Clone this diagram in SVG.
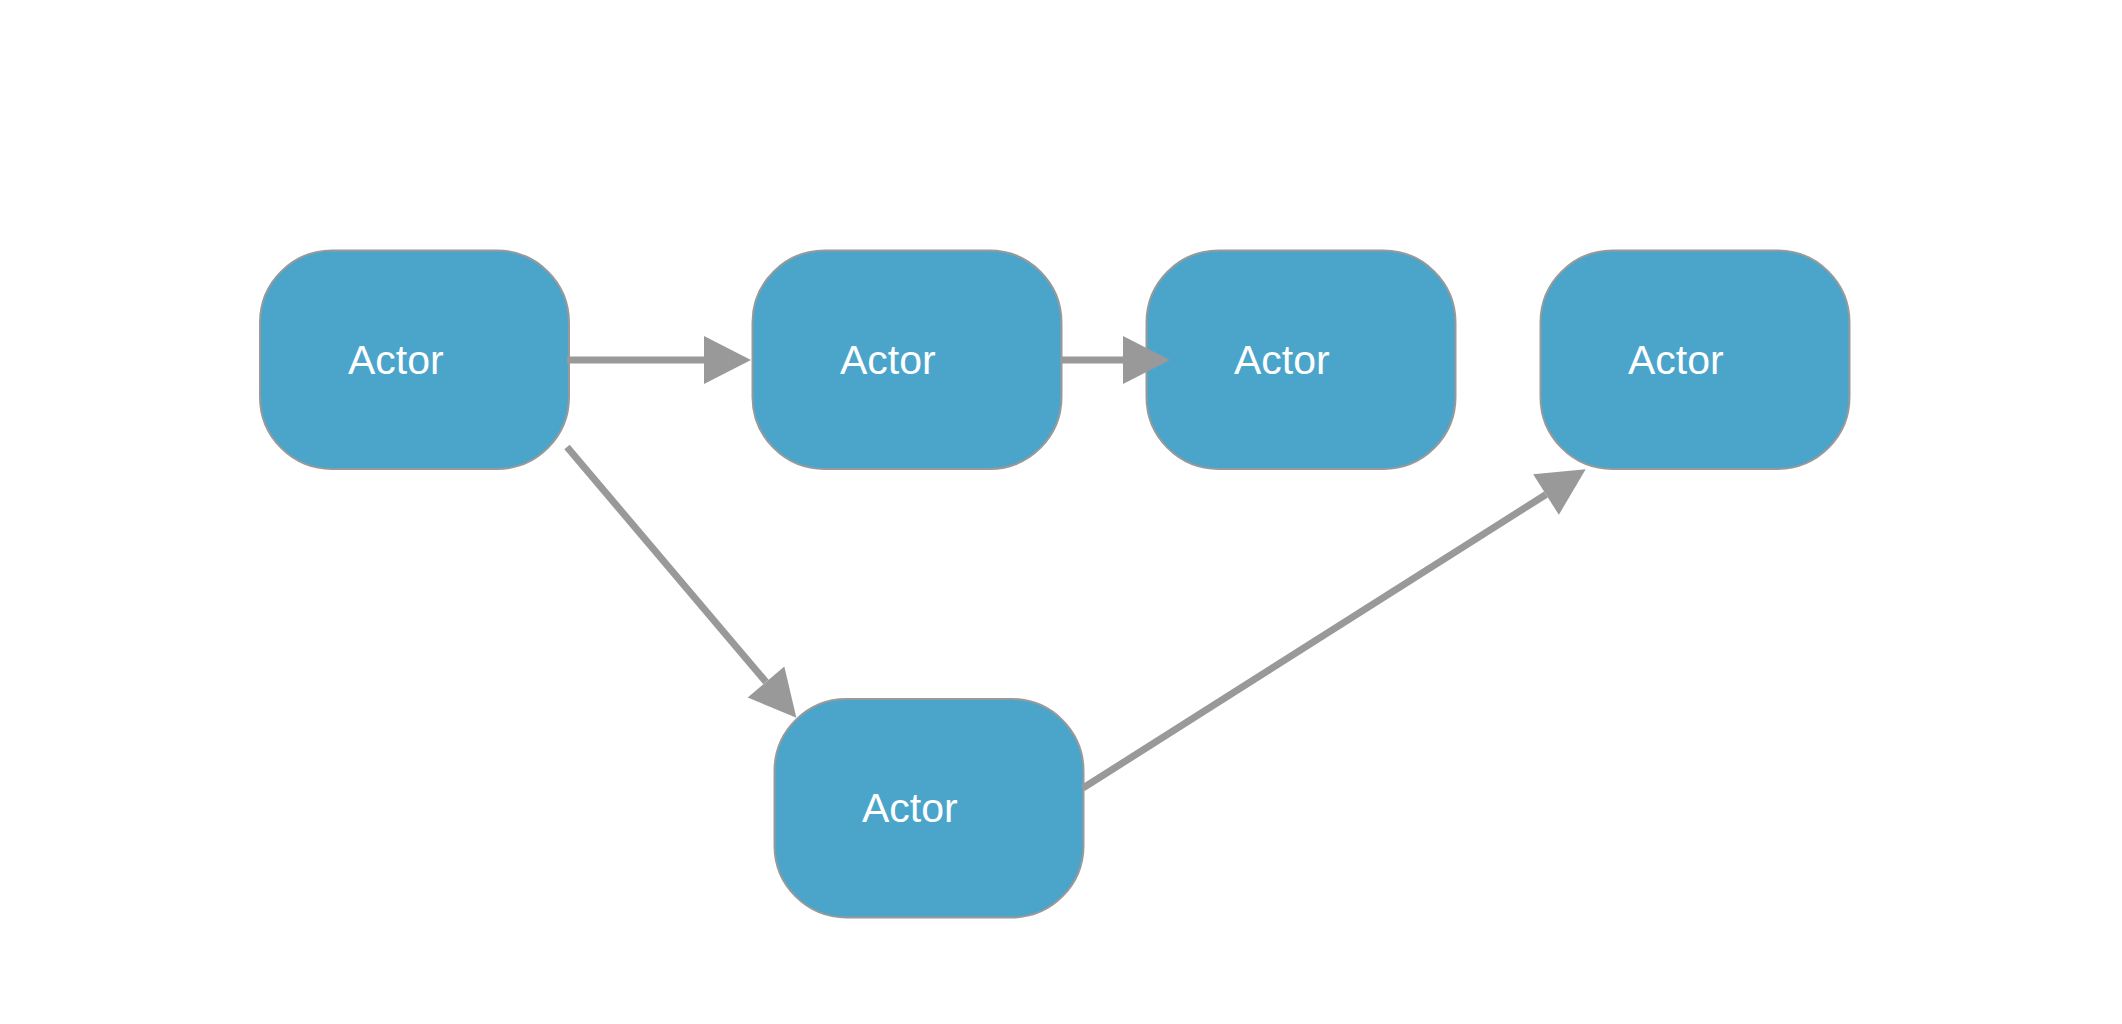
<svg xmlns="http://www.w3.org/2000/svg" width="2122" height="1024" viewBox="0 0 2122 1024">
  <style>
    .node rect { fill: #4BA5CB; stroke: #999999; stroke-width: 2; }
    .node text { fill: #FFFFFF; font-family: "Liberation Sans", Arial, sans-serif; font-size: 41px; }
    .edge { stroke: #999999; stroke-width: 7; fill: none; marker-end: url(#arrow); }
  </style>
  <defs>
    <marker id="arrow" markerUnits="userSpaceOnUse" markerWidth="50" markerHeight="50" refX="0" refY="24" orient="auto" overflow="visible">
      <path d="M0,0 L47,24 L0,48 Z" fill="#999999"/>
    </marker>
  </defs>
  <rect x="0" y="0" width="2122" height="1024" fill="#FFFFFF"/>
  <g id="nodes">
    <g id="node1" class="node">
      <rect x="260" y="250.5" width="309" height="218.5" rx="72" ry="72"/>
      <text x="348" y="374">Actor</text>
    </g>
    <g id="node2" class="node">
      <rect x="752.5" y="250.5" width="309" height="218.5" rx="72" ry="72"/>
      <text x="840" y="374">Actor</text>
    </g>
    <g id="node3" class="node">
      <rect x="1146.5" y="250.5" width="309" height="218.5" rx="72" ry="72"/>
      <text x="1234" y="374">Actor</text>
    </g>
    <g id="node4" class="node">
      <rect x="1540.5" y="250.5" width="309" height="218.5" rx="72" ry="72"/>
      <text x="1628" y="374">Actor</text>
    </g>
    <g id="node5" class="node">
      <rect x="774.5" y="699" width="309" height="218.5" rx="72" ry="72"/>
      <text x="862" y="822">Actor</text>
    </g>
  </g>
  <g id="connectors">
    <line class="edge" x1="567" y1="360" x2="704" y2="360"/>
    <line class="edge" x1="1061" y1="360" x2="1123" y2="360"/>
    <line class="edge" x1="567" y1="447" x2="766" y2="682"/>
    <line class="edge" x1="1083" y1="788" x2="1546" y2="494.5"/>
  </g>
</svg>
